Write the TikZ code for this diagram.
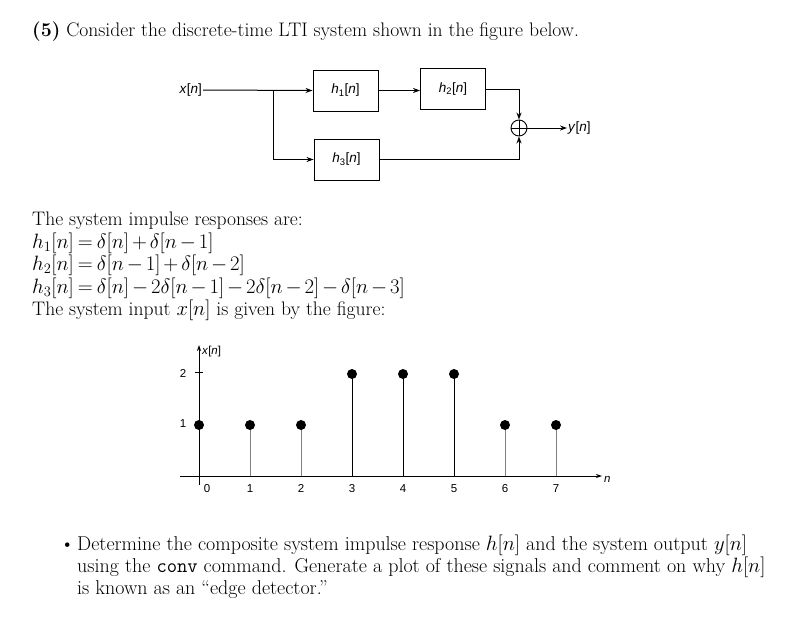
\documentclass[tikz,border=0pt]{standalone}
\usepackage{fontspec}
\newfontfamily\arial{Liberation Sans}
\usepackage{amsmath}
\usetikzlibrary{arrows.meta}
\newcommand\tightmath{\medmuskip=2.5mu plus 1mu\relax\thickmuskip=3.5mu plus 2mu\relax}
\begin{document}
\begin{tikzpicture}[x=1pt,y=-1pt,
  blk/.style={draw,line width=0.9pt,minimum width=65pt,minimum height=41pt,inner sep=0pt,font=\arial\fontsize{13.5}{15}\selectfont},
  sig/.style={font=\arial\fontsize{13.5}{15}\selectfont,inner sep=1pt},
  wire/.style={line width=1pt},
  arr/.style={wire,-{Stealth[length=7pt,width=5pt]}},
  txt/.style={anchor=base west,inner sep=0pt,font=\fontsize{19.6}{22}\selectfont},
  eq/.style={anchor=base west,inner sep=0pt,font=\fontsize{19.6}{22}\selectfont},
  btxt/.style={anchor=base west,inner sep=0pt,font=\fontsize{20}{22}\selectfont},
  dot/.style={circle,fill=black,inner sep=0pt,minimum size=10pt},
  lab/.style={font=\arial\fontsize{11.5}{13}\selectfont,inner sep=1pt}]
\useasboundingbox (0,0) rectangle (800,621);
\node[txt] (t1) at (32,36) {\textbf{(5)} Consider the discrete-time LTI system shown in the figure below.};
% block diagram
\node[sig,anchor=east] (x) at (203,90) {\textit{x}[\textit{n}]};
\node[blk] (h1) at (345.5,90.5) {\textit{h}\textsubscript{1}[\textit{n}]};
\node[blk] (h2) at (453,89) {\textit{h}\textsubscript{2}[\textit{n}]};
\node[blk] (h3) at (346.5,159.5) {\textit{h}\textsubscript{3}[\textit{n}]};
\node[draw,circle,line width=0.9pt,minimum size=16pt,inner sep=0pt] (s) at (519,128) {};
\draw[line width=0.8pt] (s.north)--(s.south) (s.west)--(s.east);
\coordinate (br) at (273,90.5);
\node[sig,anchor=west] (y) at (567,128) {\textit{y}[\textit{n}]};
\draw[arr] (x.east) -- (h1.west);
\draw[arr] (br) |- (h3.west);
\draw[arr] (h1.east) -- (h1.east -| h2.west);
\draw[arr] (h2.east) -| (s.north);
\draw[arr] (h3.east) -| (s.south);
\draw[arr] (s.east) -- (y.west);
% text
\node[txt] (t2) at (32,225) {The system impulse responses are:};
\node[eq] (t3) at (32,248) {$\tightmath h_1[n]=\delta[n]+\delta[n-1]$};
\node[eq] (t4) at (32,270) {$\tightmath h_2[n]=\delta[n-1]+\delta[n-2]$};
\node[eq] (t5) at (32,293) {$\tightmath h_3[n]=\delta[n]-2\delta[n-1]-2\delta[n-2]-\delta[n-3]$};
\node[txt] (t6) at (32,315) {The system input $x[n]$ is given by the figure:};
% plot
\coordinate (xe) at (602,476);
\coordinate (xs) at (180,476);
\coordinate (ys) at (199,485);
\coordinate (ye) at (199,345);
\draw[line width=0.8pt,-{Stealth[length=6pt,width=4pt]}] (xs)--(xe);
\draw[line width=0.8pt,-{Stealth[length=6pt,width=4pt]}] (ys)--(ye);
\node[lab,anchor=west] (nl) at (603,479) {\textit{n}};
\node[lab,anchor=west] (xl) at (201,352) {\textit{x}[\textit{n}]};
\draw[line width=0.8pt] (195,372)--(203,372);
\node[lab] (l2) at (183,373) {2};
\node[lab] (l1) at (183,424) {1};
\foreach \i/\v in {0/1,1/1,2/1,3/2,4/2,5/2,6/1,7/1}{
  \pgfmathsetmacro{\xx}{199+51*\i}
  \pgfmathsetmacro{\yy}{\v==2 ? 374 : 425}
  \ifnum\v=2 \def\sc{black}\else\def\sc{gray}\fi
  \ifnum\i>0 \draw[line width=0.8pt,\sc] (\xx,476)--(\xx,\yy);\fi
  \node[dot] (d\i) at (\xx,\yy) {};
  \node[lab,anchor=base] (n\i) at (\xx+\ifnum\i=0 8\else 0\fi,492) {\i};
}
% bullet
\node[btxt] (b0) at (60,550) {\textbullet};
\node[btxt] (b1) at (77,550) {Determine the composite system impulse response $h[n]$ and the system output $y[n]$};
\node[btxt] (b2) at (77,572) {using the \texttt{conv} command. Generate a plot of these signals and comment on why $h[n]$};
\node[btxt] (b3) at (77,594) {is known as an ``edge detector.''};
\end{tikzpicture}
\end{document}
